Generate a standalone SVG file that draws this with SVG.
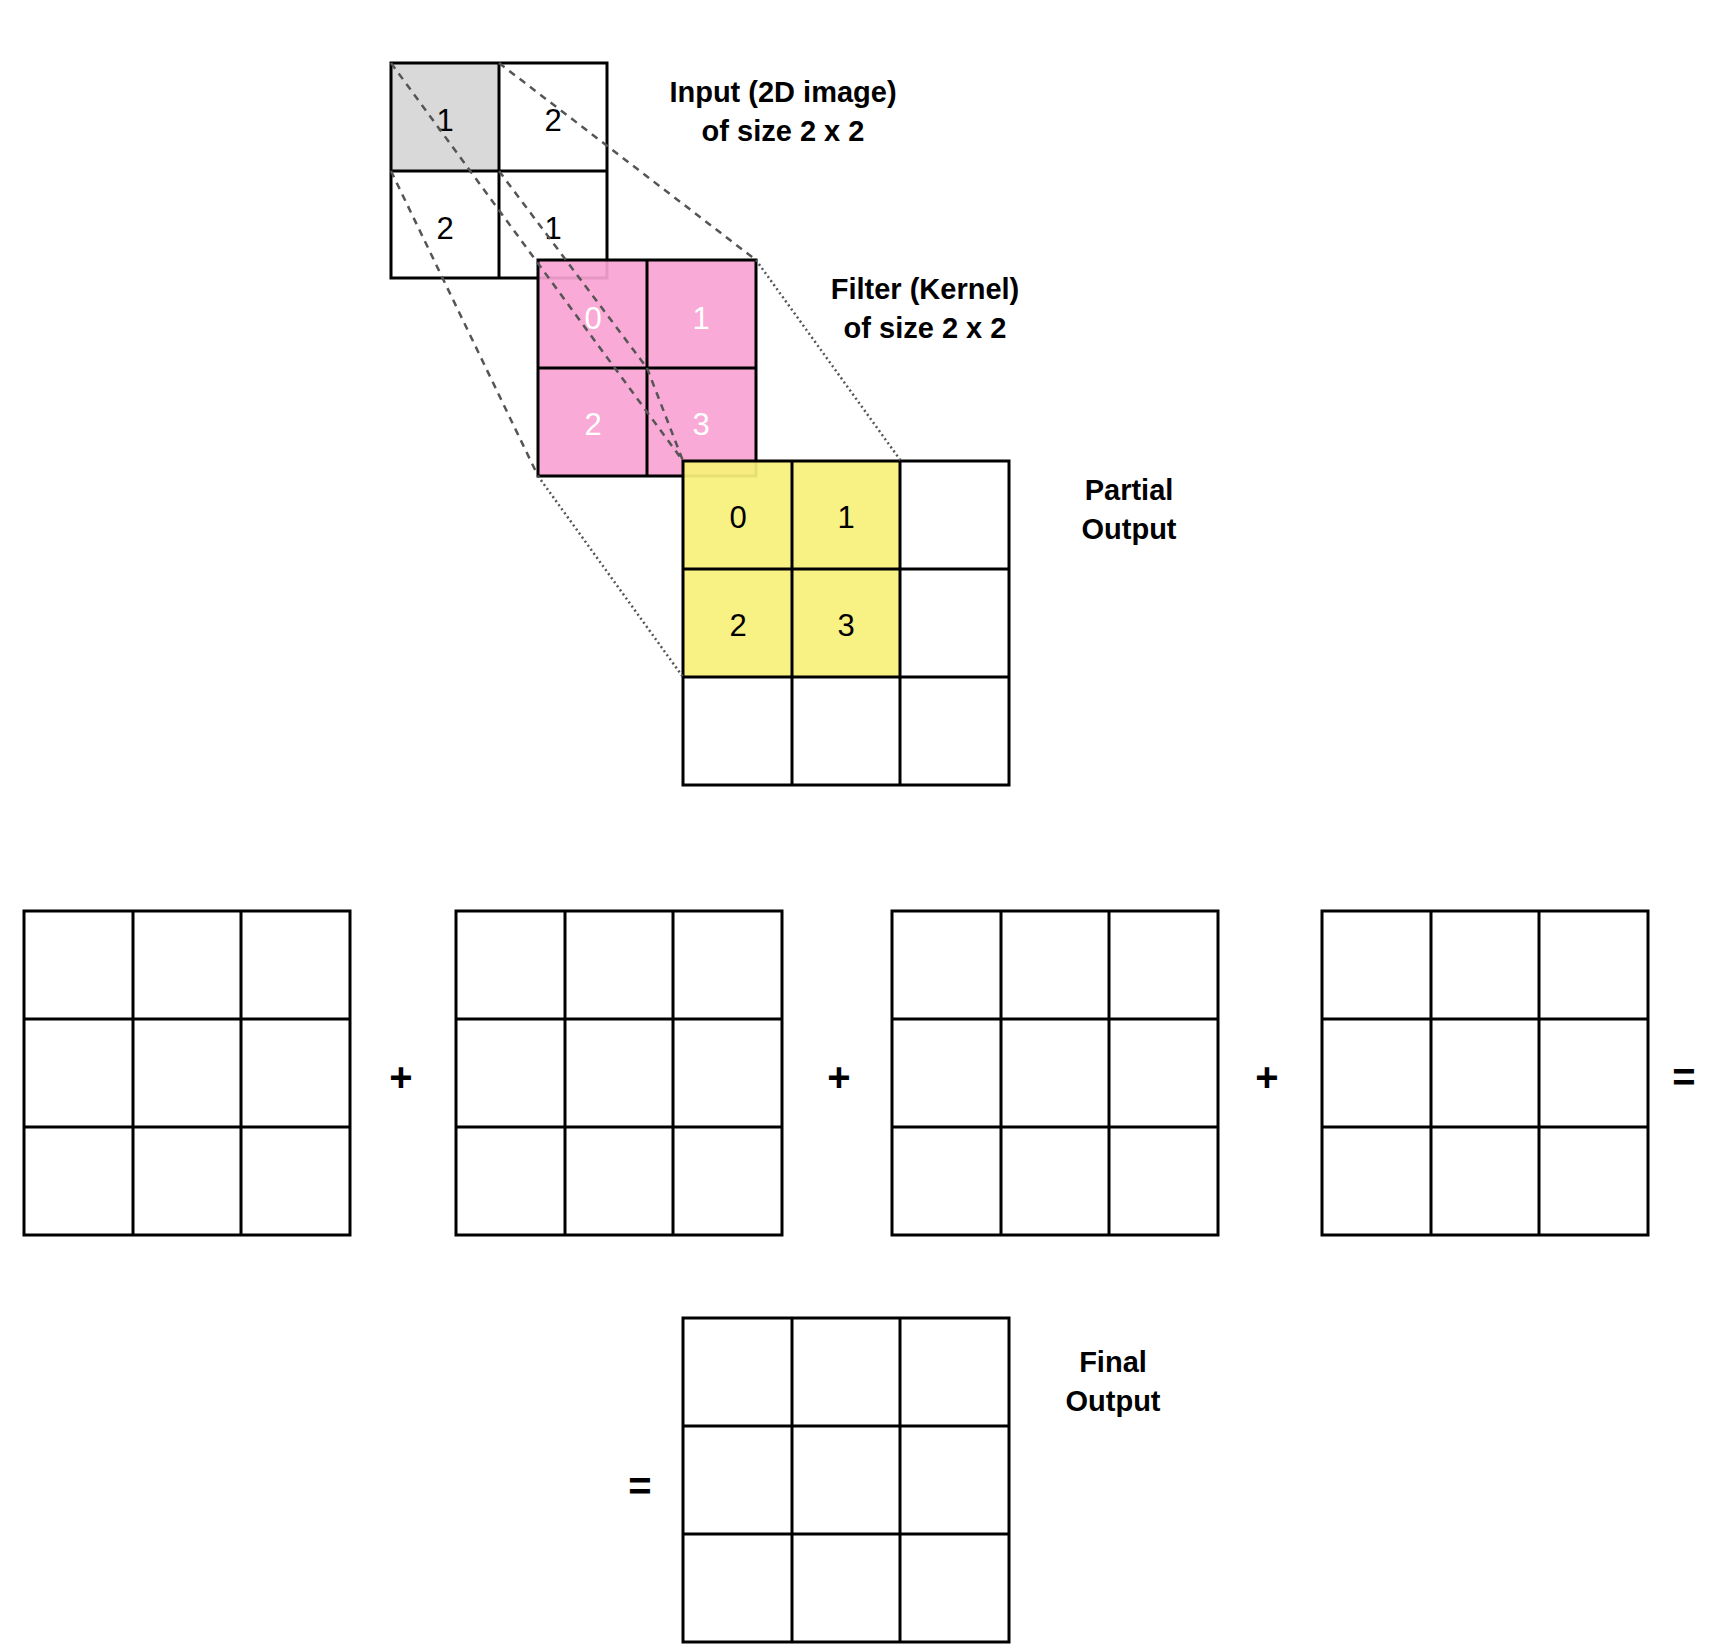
<svg xmlns="http://www.w3.org/2000/svg" width="1724" height="1650" viewBox="0 0 1724 1650">
<style>
.c{fill:none;stroke:#000;stroke-width:3}
.n{font-family:"Liberation Sans",Arial,sans-serif;font-size:31px;text-anchor:middle}
.l{font-family:"Liberation Sans",Arial,sans-serif;font-size:29px;font-weight:bold;text-anchor:middle}
.op{font-family:"Liberation Sans",Arial,sans-serif;font-size:40px;font-weight:bold;text-anchor:middle}
.d{stroke:#555;stroke-width:2.5;stroke-dasharray:7 6;fill:none}
.dt{stroke:#555;stroke-width:2.5;stroke-dasharray:2 3;fill:none}
</style>
<defs>
<g id="g3">
<rect class="c" x="0" y="0" width="326" height="324"/>
<line class="c" x1="109" y1="0" x2="109" y2="324"/><line class="c" x1="217" y1="0" x2="217" y2="324"/>
<line class="c" x1="0" y1="108" x2="326" y2="108"/><line class="c" x1="0" y1="216" x2="326" y2="216"/>
</g>
</defs>
<rect width="1724" height="1650" fill="#fff"/>
<g id="input">
<rect x="391" y="63" width="108" height="108" fill="#d9d9d9"/>
<rect class="c" x="391" y="63" width="216" height="215"/>
<line class="c" x1="499" y1="63" x2="499" y2="278"/><line class="c" x1="391" y1="171" x2="607" y2="171"/>
<text class="n" x="445" y="131">1</text><text class="n" x="553" y="131">2</text>
<text class="n" x="445" y="239">2</text><text class="n" x="553" y="239">1</text>
</g>
<g id="filter">
<rect x="538" y="260" width="218" height="216" fill="#f9a3d2" fill-opacity="0.92"/>
<rect class="c" x="538" y="260" width="218" height="216"/>
<line class="c" x1="647" y1="260" x2="647" y2="476"/><line class="c" x1="538" y1="368" x2="756" y2="368"/>
<text class="n" x="593" y="329" fill="#fff">0</text><text class="n" x="701" y="329" fill="#fff">1</text>
<text class="n" x="593" y="435" fill="#fff">2</text><text class="n" x="701" y="435" fill="#fff">3</text>
</g>
<g id="partial">
<rect x="683" y="461" width="218" height="216" fill="#f7f07a" fill-opacity="0.93"/>
<use href="#g3" x="683" y="461"/>
<text class="n" x="738" y="528">0</text><text class="n" x="846" y="528">1</text>
<text class="n" x="738" y="636">2</text><text class="n" x="846" y="636">3</text>
</g>
<g id="connectors">
<line class="d" x1="391" y1="63" x2="683" y2="461"/>
<line class="d" x1="391" y1="171" x2="538" y2="476"/>
<line class="d" x1="499" y1="63" x2="756" y2="260"/>
<line class="d" x1="499" y1="171" x2="647" y2="368"/>
<line class="d" x1="647" y1="368" x2="683" y2="461"/>
<line class="dt" x1="756" y1="260" x2="901" y2="461"/>
<line class="dt" x1="538" y1="476" x2="683" y2="677"/>
</g>
<g id="labels">
<text class="l" x="783" y="102">Input (2D image)</text><text class="l" x="783" y="141">of size 2 x 2</text>
<text class="l" x="925" y="299">Filter (Kernel)</text><text class="l" x="925" y="338">of size 2 x 2</text>
<text class="l" x="1129" y="500">Partial</text><text class="l" x="1129" y="539">Output</text>
<text class="l" x="1113" y="1372">Final</text><text class="l" x="1113" y="1411">Output</text>
</g>
<g id="row">
<use href="#g3" x="24" y="911"/><use href="#g3" x="456" y="911"/>
<use href="#g3" x="892" y="911"/><use href="#g3" x="1322" y="911"/>
<text class="op" x="401" y="1091">+</text><text class="op" x="839" y="1091">+</text>
<text class="op" x="1267" y="1091">+</text><text class="op" x="1684" y="1091">=</text>
</g>
<g id="final">
<use href="#g3" x="683" y="1318"/>
<text class="op" x="640" y="1500">=</text>
</g>
</svg>
